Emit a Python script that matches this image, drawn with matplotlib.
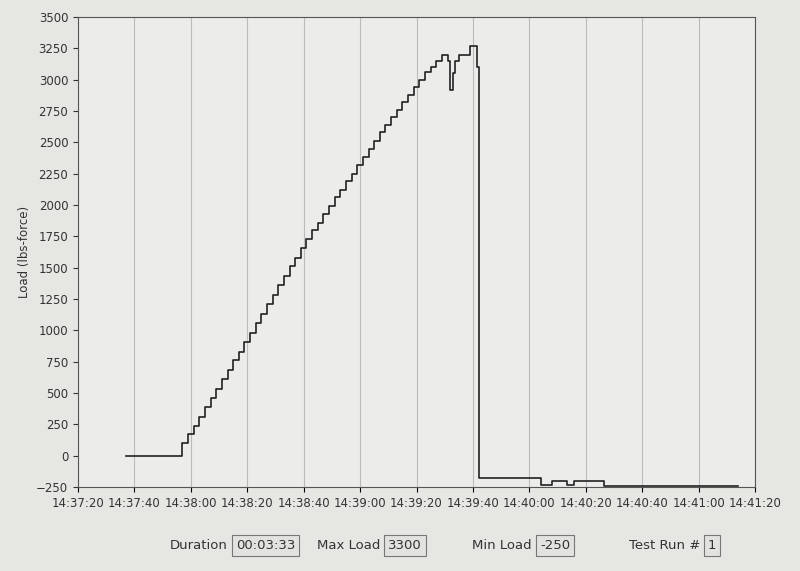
import numpy as np
from matplotlib import pyplot as plt

# seconds after 14:37:20, load in lbs-force (step data)
t_sec = [17, 35, 37, 39, 41, 43, 45, 47, 49, 51, 53, 55, 57, 59, 61, 63, 65, 67, 69,
         71, 73, 75, 77, 79, 81, 83, 85, 87, 89, 91, 93, 95, 97, 99, 101, 103, 105,
         107, 109, 111, 113, 115, 117, 119, 121, 123, 125, 127, 129, 131, 132,
         133, 133.5, 135, 139, 141.5, 142, 164, 168, 173.5, 176, 186.5, 234]
load = [0, 0, 100, 170, 240, 310, 390, 460, 530, 610, 680, 760, 830, 910, 980, 1060,
        1130, 1210, 1280, 1360, 1430, 1510, 1580, 1660, 1730, 1800, 1860, 1930, 1990,
        2060, 2120, 2190, 2250, 2320, 2380, 2450, 2510, 2580, 2640, 2700, 2760, 2820,
        2880, 2940, 3000, 3060, 3100, 3150, 3200, 3150, 2920, 3050, 3150, 3200, 3270,
        3100, -175, -235, -200, -235, -200, -243, -243]

tick_sec = np.arange(0, 241, 20)
tick_lbl = ["14:%02d:%02d" % ((37 * 60 + 20 + s) // 60 % 60, (20 + s) % 60) for s in tick_sec]

bg = "#e6e6e3"
fig = plt.figure(figsize=(8, 5.71), dpi=100, facecolor=bg)
ax = fig.add_axes([78 / 800, 84 / 571, 677 / 800, 470 / 571], facecolor="#ececea")
ax.step(t_sec, load, where="post", color="#222222", lw=1.2)
ax.set_xlim(0, 240)
ax.set_ylim(-250, 3500)
ax.set_xticks(tick_sec)
ax.set_xticklabels(tick_lbl, fontsize=8.5, color="#333333")
ax.set_yticks(np.arange(-250, 3501, 250))
ax.tick_params(axis="y", labelsize=8.5, colors="#333333")
ax.grid(axis="x", color="#bbbbbb", lw=0.8)
ax.set_ylabel("Load (lbs-force)", fontsize=8.5, color="#333333")
for s in ax.spines.values():
    s.set_color("#555555")

# readout boxes under the chart
items = [("Duration", "00:03:33", 0.29), ("Max Load", "3300", 0.48),
         ("Min Load", "-250", 0.67), ("Test Run #", "1", 0.88)]
for name, val, xb in items:
    fig.text(xb - 0.005, 0.045, name, ha="right", va="center", fontsize=9.5, color="#333333")
    fig.text(xb + 0.005, 0.045, val, ha="left", va="center", fontsize=9.5, color="#333333",
             bbox=dict(boxstyle="square,pad=0.3", fc="#e2e2e0", ec="#777777", lw=0.8))

fig.savefig("out.png", dpi=100, facecolor=bg)
